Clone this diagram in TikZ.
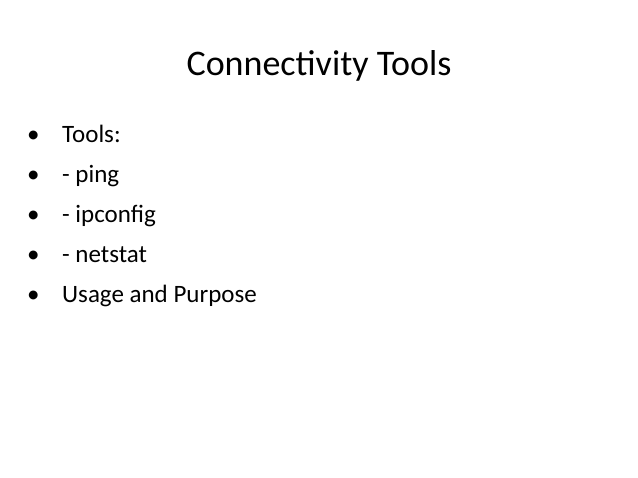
\documentclass[tikz,border=0pt]{standalone}
\usepackage{fontspec}
\setmainfont{Carlito}
\begin{document}
\begin{tikzpicture}[x=1pt,y=-1pt,
  body/.style={anchor=base west,inner sep=0pt,font=\fontsize{25}{30}\selectfont},
  dot/.style={anchor=base west,inner sep=0pt,font=\fontsize{25}{30}\selectfont}]
\useasboundingbox[fill=white] (0,0) rectangle (638,478);
\node[anchor=base,inner sep=0pt,font=\fontsize{36}{42}\selectfont] (title) at (319,76) {Connectivity Tools};
\foreach \t [count=\i] in {Tools:,- ping,- ipconfig,- netstat,Usage and Purpose}{
  \node[dot] (b\i) at (27,{143+(\i-1)*40}) {•};
  \node[body] (t\i) at (62,{143+(\i-1)*40}) {\t};
}
\end{tikzpicture}
\end{document}
